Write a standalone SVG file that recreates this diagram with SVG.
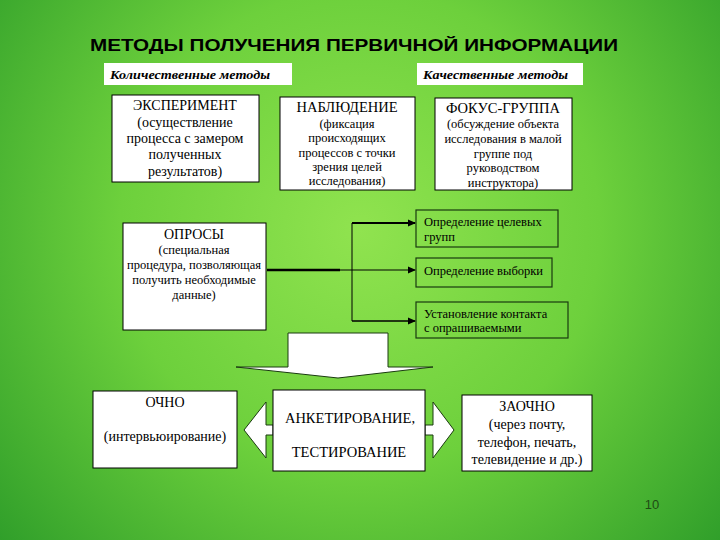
<svg xmlns="http://www.w3.org/2000/svg" width="720" height="540" viewBox="0 0 720 540">
<defs>
<radialGradient id="bg" cx="360" cy="230" r="480" gradientUnits="userSpaceOnUse">
<stop offset="0" stop-color="#90e34f"/>
<stop offset="0.5" stop-color="#6dd03c"/>
<stop offset="1" stop-color="#2f9e2a"/>
</radialGradient>
<marker id="ah" markerWidth="8" markerHeight="8" refX="7" refY="4" orient="auto" markerUnits="userSpaceOnUse">
<path d="M0,0.5 L8,4 L0,7.5 z" fill="#000"/>
</marker>
</defs>
<style>
.box{fill:#fff;stroke:#000;stroke-width:1}
.gbox{fill:none;stroke:#1a3a10;stroke-width:1.2}
.hdr{fill:#fff;stroke:none}
.t{font-family:"Liberation Serif","Times New Roman",serif;fill:#000;text-anchor:middle}
.big{font-size:14px}
.sm{font-size:12.5px}
.lt{font-family:"Liberation Serif","Times New Roman",serif;fill:#000;font-size:12.5px}
.hd{font-family:"Liberation Serif","Times New Roman",serif;font-weight:bold;font-style:italic;font-size:13px;fill:#000}
.ln{stroke:#000;fill:none}
.arrow{fill:#fff;stroke:#1a3a10;stroke-width:1}
</style>
<rect width="720" height="540" fill="url(#bg)"/>
<text x="90" y="51" font-family="Liberation Sans, Arial, sans-serif" font-weight="bold" font-size="17" textLength="528" lengthAdjust="spacingAndGlyphs" fill="#000">МЕТОДЫ  ПОЛУЧЕНИЯ  ПЕРВИЧНОЙ  ИНФОРМАЦИИ</text>

<g id="hdr-quant">
<rect class="hdr" x="104" y="63" width="188" height="22"/>
<text class="hd" x="110" y="79" textLength="160" lengthAdjust="spacingAndGlyphs">Количественные методы</text>
</g>
<g id="hdr-qual">
<rect class="hdr" x="417" y="63" width="166" height="22"/>
<text class="hd" x="423" y="79" textLength="145" lengthAdjust="spacingAndGlyphs">Качественные методы</text>
</g>

<g id="experiment" font-family="Liberation Serif, serif">
<rect class="box" x="112" y="95" width="147" height="87"/>
<text class="t big" x="185" y="110">ЭКСПЕРИМЕНТ</text>
<text class="t big" x="185" y="127">(осуществление</text>
<text class="t big" x="185" y="143">процесса с замером</text>
<text class="t big" x="185" y="159">полученных</text>
<text class="t big" x="185" y="176">результатов)</text>
</g>

<g id="observation">
<rect class="box" x="280" y="97" width="135" height="93"/>
<text class="t" x="347" y="112" font-size="14.5">НАБЛЮДЕНИЕ</text>
<text class="t sm" x="347" y="128">(фиксация</text>
<text class="t sm" x="347" y="142">происходящих</text>
<text class="t sm" x="347" y="157">процессов с точки</text>
<text class="t sm" x="347" y="171">зрения целей</text>
<text class="t sm" x="347" y="185">исследования)</text>
</g>

<g id="focus">
<rect class="box" x="435" y="98" width="137" height="92"/>
<text class="t" x="503" y="113" font-size="14.5">ФОКУС-ГРУППА</text>
<text class="t sm" x="503" y="128">(обсуждение объекта</text>
<text class="t sm" x="503" y="143">исследования в малой</text>
<text class="t sm" x="503" y="158">группе под</text>
<text class="t sm" x="503" y="172">руководством</text>
<text class="t sm" x="503" y="187">инструктора)</text>
</g>

<g id="surveys">
<rect class="box" x="123" y="223" width="143" height="107"/>
<text class="t big" x="194" y="239">ОПРОСЫ</text>
<text class="t sm" x="194" y="254">(специальная</text>
<text class="t sm" x="194" y="269">процедура, позволяющая</text>
<text class="t sm" x="194" y="284">получить необходимые</text>
<text class="t sm" x="194" y="299">данные)</text>
</g>

<g id="target">
<rect class="gbox" x="416" y="210" width="142" height="37"/>
<text class="lt" x="424" y="226">Определение целевых</text>
<text class="lt" x="424" y="241">групп</text>
</g>
<g id="sample">
<rect class="gbox" x="416" y="258" width="136" height="29"/>
<text class="lt" x="424" y="275">Определение выборки</text>
</g>
<g id="contact">
<rect class="gbox" x="416" y="302" width="152" height="36"/>
<text class="lt" x="424" y="318">Установление контакта</text>
<text class="lt" x="424" y="332">с опрашиваемыми</text>
</g>

<g id="connectors">
<line class="ln" x1="267" y1="270" x2="340" y2="270" stroke-width="2.5"/>
<line class="ln" x1="338" y1="270" x2="415" y2="270" stroke-width="1" marker-end="url(#ah)"/>
<polyline class="ln" points="415,223 352,223 352,321 415,321" stroke-width="1" fill="none"/>
<line class="ln" x1="352" y1="223" x2="415" y2="223" stroke-width="2" marker-end="url(#ah)"/>
<line class="ln" x1="352" y1="321" x2="415" y2="321" stroke-width="1" marker-end="url(#ah)"/>
</g>

<g id="down-arrow">
<path class="arrow" d="M288,333 L388,333 L388,367 L433,367 L338,378 L236,367 L288,367 Z"/>
</g>

<g id="ochno">
<rect class="box" x="93" y="391" width="144" height="77"/>
<text class="t big" x="165" y="407">ОЧНО</text>
<text class="t big" x="165" y="441">(интервьюирование)</text>
</g>

<g id="anket">
<path class="arrow" d="M273,425 L266,425 L266,402 L244,430 L266,458 L266,435 L273,435 Z"/>
<path class="arrow" d="M425,425 L433,425 L433,402 L454,430 L433,458 L433,435 L425,435 Z"/>
<rect class="box" x="273" y="390" width="152" height="81"/>
<text class="t" x="350" y="423" font-size="14.5">АНКЕТИРОВАНИЕ,</text>
<text class="t" x="349" y="457" font-size="14.5">ТЕСТИРОВАНИЕ</text>
</g>

<g id="zaochno">
<rect class="box" x="462" y="395" width="130" height="76"/>
<text class="t big" x="527" y="411">ЗАОЧНО</text>
<text class="t big" x="527" y="429">(через почту,</text>
<text class="t big" x="527" y="447">телефон, печать,</text>
<text class="t big" x="527" y="464">телевидение и др.)</text>
</g>

<text x="652" y="509" font-family="Liberation Sans, Arial, sans-serif" font-size="13" fill="#1f4a14" text-anchor="middle">10</text>
</svg>
